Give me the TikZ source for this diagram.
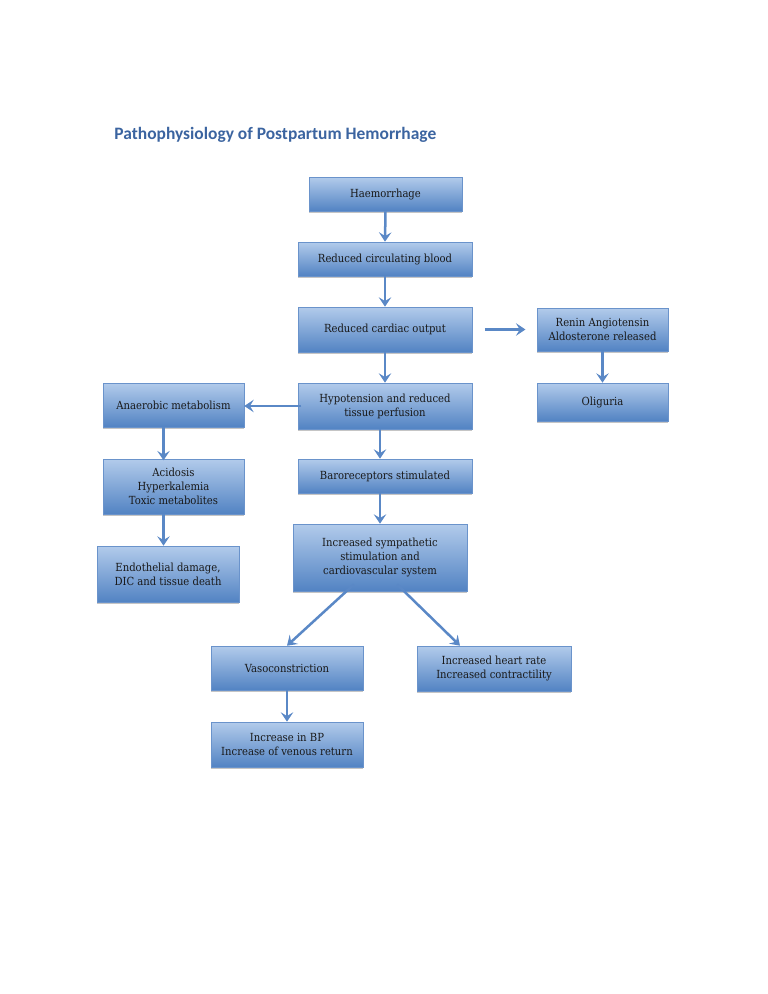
\documentclass[tikz,border=0pt]{standalone}
\usepackage{fontspec}
\newfontfamily\titlefont{Carlito}
\newfontfamily\boxfont{DejaVu Serif Condensed}
\usetikzlibrary{arrows.meta,shadows,calc}
\definecolor{boxtop}{HTML}{B2CBEB}
\definecolor{boxbot}{HTML}{5283C3}
\definecolor{boxline}{HTML}{6A93CB}
\definecolor{arrowblue}{HTML}{5A88C6}
\definecolor{titleblue}{HTML}{3B64A0}
\tikzset{
  blk/.style 2 args={draw=boxline, line width=0.5pt, top color=boxtop, bottom color=boxbot,
    minimum width=#1*0.797pt, minimum height=#2*0.797pt, inner sep=0pt, align=center,
    font=\boxfont\fontsize{8.9}{11.2}\selectfont, text=black!90,
    drop shadow={shadow xshift=0.3pt, shadow yshift=-1.2pt, fill=black!45}},
  flow/.style={draw=arrowblue, line width=2pt, -{Stealth[length=7.5pt,width=10pt,inset=3pt]}}
}
\begin{document}
\begin{tikzpicture}[x=0.797pt,y=-0.797pt]
  \useasboundingbox (0,0) rectangle (768,994);
  \node[anchor=base west, font=\titlefont\bfseries\fontsize{13.9}{17}\selectfont, text=titleblue]
    (title) at (110,139) {Pathophysiology of Postpartum Hemorrhage};
  % main column
  \node[blk={153}{34}] (haem) at (385.5,194) {Haemorrhage};
  \node[blk={174}{34}] (circ) at (385,259) {Reduced circulating blood};
  \node[blk={174}{45}] (card) at (385,329.5) {Reduced cardiac output};
  \node[blk={174}{46}] (hypo) at (385,406) {Hypotension and reduced\\tissue perfusion};
  \node[blk={174}{34}] (baro) at (385,476) {Baroreceptors stimulated};
  \node[blk={174}{67}] (symp) at (380,557.5) {Increased sympathetic\\stimulation and\\cardiovascular system};
  % right side
  \node[blk={131}{43}] (renin) at (602.5,329.5) {Renin Angiotensin\\Aldosterone released};
  \node[blk={131}{38}] (olig) at (602.5,402) {Oliguria};
  % left side
  \node[blk={141}{44}] (anae) at (173.5,405) {Anaerobic metabolism};
  \node[blk={141}{55}] (acid) at (173.5,486.5) {Acidosis\\Hyperkalemia\\Toxic metabolites};
  \node[blk={142}{56}] (endo) at (168,574) {Endothelial damage,\\DIC and tissue death};
  % bottom
  \node[blk={152}{44}] (vaso) at (287,668) {Vasoconstriction};
  \node[blk={154}{45}] (heart) at (494,668.5) {Increased heart rate\\Increased contractility};
  \node[blk={152}{45}] (bp) at (287,744.5) {Increase in BP\\Increase of venous return};
  % arrows
  \foreach \a/\b in {haem/circ,circ/card,card/hypo,renin/olig,vaso/bp}
    \draw[flow] (\a.south) -- (\b.north);
  \draw[flow] (hypo.south -| symp) -- (baro.north -| symp);
  \draw[flow] (baro.south -| symp) -- (symp.north);
  \draw[flow] ($(anae.south)+(-10,0)$) -- ($(anae.south)+(-10,33)$) coordinate (a1);
  \draw[flow] (acid.south -| a1) -- (endo.north -| a1);
  \draw[flow, shorten <=10pt, shorten >=9pt] (card.east) -- (renin.west);
  \draw[flow, shorten <=-3pt] (hypo.west) -- (hypo.west -| anae.east);
  \draw[flow] ($(symp.south)+(-26,-7)$) -- (vaso.north);
  \draw[flow] ($(symp.south)+(17,-7)$) -- ($(heart.north)+(-34,0)$);
\end{tikzpicture}
\end{document}
